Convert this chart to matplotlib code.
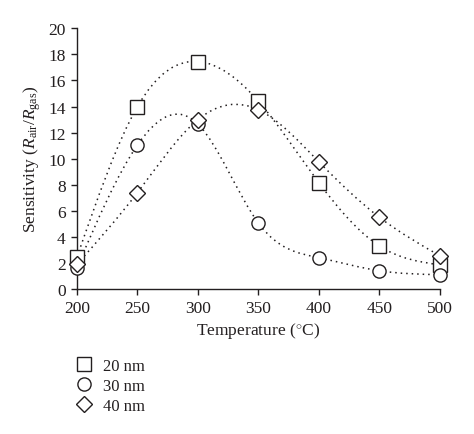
import numpy as np
import matplotlib
matplotlib.use("Agg")
import matplotlib.pyplot as plt
from matplotlib.path import Path
from matplotlib.patches import PathPatch

plt.rcParams['font.family'] = 'Liberation Serif'
plt.rcParams['mathtext.fontset'] = 'custom'
plt.rcParams['mathtext.rm'] = 'Liberation Serif'
plt.rcParams['mathtext.it'] = 'Liberation Serif:italic'

# data
temps = [200, 250, 300, 350, 400, 450, 500]
s20 = [2.45, 14.0, 17.45, 14.4, 8.15, 3.3, 1.85]
s30 = [1.65, 11.05, 12.65, 5.05, 2.4, 1.4, 1.1]
s40 = [1.9, 7.4, 13.0, 13.75, 9.75, 5.5, 2.55]
labels = ['20 nm', '30 nm', '40 nm']
markers = ['s', 'o', 'D']

ink = '#231f20'


def spline_path(x, y):
    # natural cubic spline through the points, drawn as bezier segments
    x = np.asarray(x, float)
    y = np.asarray(y, float)
    n = len(x)
    h = np.diff(x)
    A = np.zeros((n, n))
    b = np.zeros(n)
    A[0, 0] = A[-1, -1] = 1
    for i in range(1, n - 1):
        A[i, i - 1] = h[i - 1]
        A[i, i] = 2 * (h[i - 1] + h[i])
        A[i, i + 1] = h[i]
        b[i] = 6 * ((y[i + 1] - y[i]) / h[i] - (y[i] - y[i - 1]) / h[i - 1])
    M = np.linalg.solve(A, b)
    slope = np.zeros(n)
    for i in range(n - 1):
        slope[i] = (y[i + 1] - y[i]) / h[i] - h[i] * (2 * M[i] + M[i + 1]) / 6
    slope[-1] = (y[-1] - y[-2]) / h[-1] + h[-1] * (M[-2] + 2 * M[-1]) / 6
    verts = [(x[0], y[0])]
    codes = [Path.MOVETO]
    for i in range(n - 1):
        d = h[i] / 3
        verts += [(x[i] + d, y[i] + d * slope[i]),
                  (x[i + 1] - d, y[i + 1] - d * slope[i + 1]),
                  (x[i + 1], y[i + 1])]
        codes += [Path.CURVE4] * 3
    return Path(verts, codes)


fig = plt.figure(figsize=(4.74, 4.35), dpi=100)
ax = fig.add_axes([0.1624, 0.3333, 0.7658, 0.5993])

for vals, lab, m in zip([s20, s30, s40], labels, markers):
    ax.add_patch(PathPatch(spline_path(temps, vals), fill=False, edgecolor=ink,
                           lw=1.1, linestyle=(0, (1, 2.6)), zorder=2))
    ms = 8.5 if m == 'D' else 9.5
    ax.plot(temps, vals, linestyle='none', marker=m, ms=ms, mfc='white',
            mec=ink, mew=1.0, label=lab, zorder=3, clip_on=False)

ax.set_xlim(200, 500)
ax.set_ylim(0, 20)
ax.set_xticks(range(200, 501, 50))
ax.set_yticks(range(0, 21, 2))
for s in ['top', 'right']:
    ax.spines[s].set_visible(False)
for s in ['left', 'bottom']:
    ax.spines[s].set_color(ink)
    ax.spines[s].set_linewidth(1.0)
ax.tick_params(direction='out', length=4, width=1.0, colors=ink,
               labelsize=12.5, pad=4)

ax.set_xlabel(r'Temperature ($^{\circ}$C)', fontsize=12.5, color=ink, labelpad=3)
ax.set_ylabel(r'Sensitivity ($R_{\mathrm{air}}/R_{\mathrm{gas}}$)', fontsize=12.5,
              color=ink, labelpad=4)

fig.legend(loc='upper left', bbox_to_anchor=(0.125, 0.21), frameon=False,
           fontsize=12, numpoints=1, handlelength=1.2, handletextpad=0.5,
           labelspacing=0.25, labelcolor=ink)

fig.savefig('out.png', dpi=100)
